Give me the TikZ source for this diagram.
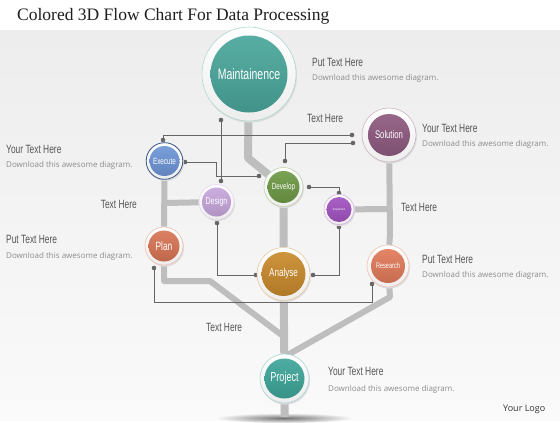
\documentclass[tikz,border=0pt]{standalone}
\usepackage{fontspec}
\setmainfont{Liberation Serif}
\newfontfamily\cond[FakeStretch=0.7]{Liberation Sans}
\newfontfamily\bodyf{Open Sans}
\usetikzlibrary{calc}
\definecolor{bgA}{HTML}{EDEDED}
\definecolor{bgB}{HTML}{FAFAFA}
\definecolor{trunkc}{HTML}{BEBEBE}
\definecolor{wirec}{HTML}{666666}
\definecolor{headc}{HTML}{555555}
\definecolor{descc}{HTML}{8C8C8C}
\definecolor{cMaint}{HTML}{4AA79C}
\definecolor{cSol}{HTML}{8E5A7F}
\definecolor{cExec}{HTML}{6E96D8}
\definecolor{cDes}{HTML}{C8A6DD}
\definecolor{cDev}{HTML}{6E9A45}
\definecolor{cReq}{HTML}{A253C2}
\definecolor{cPlan}{HTML}{D97555}
\definecolor{cAna}{HTML}{C98A2C}
\definecolor{cRes}{HTML}{E27A5A}
\definecolor{cProj}{HTML}{3EA69A}
\pgfdeclarelayer{bg}
\pgfsetlayers{bg,main}
\tikzset{
  ring/.style={circle, inner sep=0pt, minimum size=#1, top color=white, bottom color=black!7, line width=0.6pt},
  core/.style 2 args={circle, inner sep=0pt, minimum size=#1, top color=#2!92!white, bottom color=#2!88!black, text=white},
  shadowc/.style={circle, inner sep=0pt, minimum size=#1, fill=black!14},
  trunk/.style={draw=trunkc, line width=8pt, line join=round},
  branch/.style={draw=trunkc, line width=6pt, line join=round},
  wire/.style={draw=wirec, line width=0.7pt},
  head/.style={font=\cond\fontsize{12}{12}\selectfont, text=headc, anchor=base west, inner sep=0pt},
  desc/.style={font=\bodyf\fontsize{8}{8}\selectfont, text=descc, anchor=base west, inner sep=0pt},
}
\newcommand\bubble[7]{%
  \node[shadowc=#3] (#1-sh) at ($(#2)+(1,1.6)$) {};
  \node[ring=#3, draw=#5!45] (#1) at (#2) {};
  \node[core={#4}{#5}, font=\cond\fontsize{#6}{#6}\selectfont] (#1-in) at (#1) {#7};
}
\begin{document}
\begin{tikzpicture}[x=1pt,y=-1pt]
\begin{pgfonlayer}{bg}
  \fill[white] (0,0) rectangle (560,420);
  \shade[top color=bgA, bottom color=bgB] (0,30) rectangle (560,420);
  \shade[inner color=black!55, outer color=bgB] (284,418) ellipse (68pt and 5pt);
\end{pgfonlayer}
\useasboundingbox (0,0) rectangle (560,420);

\node[font=\fontsize{17.5}{17.5}\selectfont, text=black!88, anchor=base west, inner sep=0pt] (title) at (17,20) {Colored 3D Flow Chart For Data Processing};

% bubbles
\bubble{maint}{249,74}{94pt}{77pt}{cMaint}{15}{Maintainence}
\bubble{sol}{389,135}{54pt}{42pt}{cSol}{11}{Solution}
\bubble{exec}{164.5,161}{37pt}{30pt}{cExec}{9}{Execute}
\bubble{des}{216.5,202}{35pt}{29pt}{cDes}{10}{Design}
\bubble{dev}{283.5,187}{39pt}{32pt}{cDev}{9}{Develop}
\bubble{req}{339,209.5}{30pt}{25pt}{cReq}{3}{Requirement}
\bubble{plan}{164,246}{38pt}{31pt}{cPlan}{12}{Plan}
\bubble{ana}{283.5,274}{53pt}{44pt}{cAna}{11.5}{Analyse}
\bubble{res}{388,266}{42pt}{34pt}{cRes}{8}{Research}
\bubble{proj}{284.5,378.5}{49pt}{40pt}{cProj}{13}{Project}
\draw[draw=cExec!60!black, line width=0.8pt] (exec) circle (18.3pt);

% trunks and wires
\begin{pgfonlayer}{bg}
  \draw[trunk] (maint) -- (248,158) -- (dev);
  \draw[trunk] (dev) -- (ana) -- (proj) -- (284.5,417);
  \draw[branch] (exec) -- (plan) -- (164,281) -- (210,281) -- (283,336);
  \draw[branch] (164.5,203) -- (des);
  \draw[branch] (284,357) -- (390,297) -- (res);
  \draw[branch] (res) -- (390,234) -- (sol);
  \draw[branch] (req) -- (390,209);

  \coordinate (a1) at (221,120);  \coordinate (a2) at (221,181);
  \coordinate (b1) at (185,162);  \coordinate (b2) at (259,176);
  \coordinate (c1) at (163,140);  \coordinate (c2) at (352,135);
  \coordinate (d1) at (285,161);  \coordinate (d2) at (353,143);
  \coordinate (e1) at (309,187);  \coordinate (e2) at (339,193);
  \coordinate (f1) at (339,227);  \coordinate (f2) at (313,275);
  \coordinate (g1) at (217,223);  \coordinate (g2) at (256,275);
  \coordinate (h1) at (154,268);  \coordinate (h2) at (372,284);

  \draw[wire] (a1) -- (a2);
  \draw[wire] (b1) -- (216,162) -- (216,176) -- (b2);
  \draw[wire] (c1) -- (163,135) -- (c2);
  \draw[wire] (d1) -- (285,143) -- (d2);
  \draw[wire] (e1) -- (339,187) -- (e2);
  \draw[wire] (f1) -- (339,275) -- (f2);
  \draw[wire] (g1) -- (217,275) -- (g2);
  \draw[wire] (h1) -- (154,302) -- (372,302) -- (h2);
  \foreach \p in {a1,a2,b1,b2,c1,c2,d1,d2,e1,e2,f1,f2,g1,g2,h1,h2}
    \fill[wirec] (\p) circle (2.3pt);
\end{pgfonlayer}

% texts
\node[head] (t1) at (312,66) {Put Text Here};
\node[desc] (d1t) at (312,80) {Download this awesome diagram.};
\node[head] (t2) at (307,122) {Text Here};
\node[head] (t3) at (422,132) {Your Text Here};
\node[desc] (d3t) at (422,146) {Download this awesome diagram.};
\node[head] (t4) at (6,153) {Your Text Here};
\node[desc] (d4t) at (6,167) {Download this awesome diagram.};
\node[head, anchor=base east] (t5) at (137,208) {Text Here};
\node[head] (t6) at (6,243) {Put Text Here};
\node[desc] (d6t) at (6,258) {Download this awesome diagram.};
\node[head] (t7) at (401,211) {Text Here};
\node[head] (t8) at (422,263) {Put Text Here};
\node[desc] (d8t) at (422,277) {Download this awesome diagram.};
\node[head] (t9) at (206,331) {Text Here};
\node[head] (t10) at (328,375) {Your Text Here};
\node[desc] (d10t) at (328,391) {Download this awesome diagram.};
\node[font=\bodyf\fontsize{9}{9}\selectfont, text=black!80, anchor=base west, inner sep=0pt] (logo) at (503,411) {Your Logo};
\end{tikzpicture}
\end{document}
